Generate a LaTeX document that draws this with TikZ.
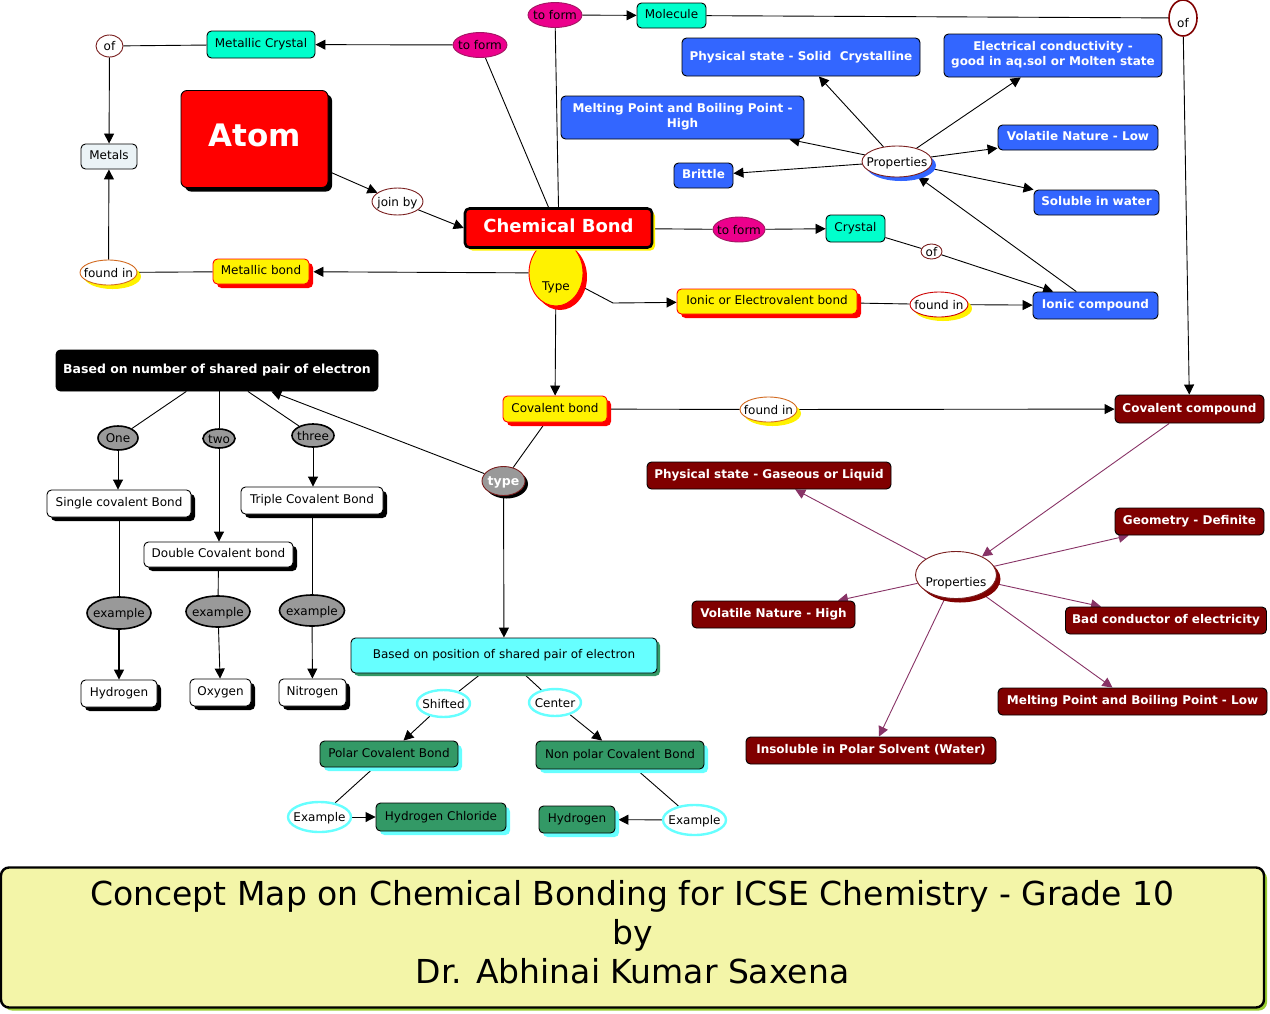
\documentclass[tikz,border=0pt]{standalone}
\usepackage{fontspec}
\setmainfont{DejaVu Sans}
\usepackage{xcolor}
\usepackage{tikz}
\usetikzlibrary{arrows.meta}
\usetikzlibrary{calc}
\usetikzlibrary{shapes.geometric}
\usetikzlibrary{shadows}
\usetikzlibrary{backgrounds}
\definecolor{aquafill}{HTML}{00FFCC}
\definecolor{bluefill}{HTML}{3366FF}
\definecolor{maroonfill}{HTML}{800000}
\definecolor{cyanfill}{HTML}{66FFFF}
\definecolor{greenfill}{HTML}{339966}
\definecolor{greyfill}{HTML}{999999}
\definecolor{paleblue}{HTML}{EBF3F6}
\definecolor{linkred}{HTML}{7A1F1F}
\definecolor{linkorange}{HTML}{D2691E}
\definecolor{plumline}{HTML}{883366}
\definecolor{titlefill}{HTML}{F3F5A8}
\definecolor{titleshadow}{HTML}{99CC33}
\newcommand{\etext}[2][-4.5pt]{\makebox[0pt]{\raisebox{#1}[0pt][0pt]{#2}}}
\tikzset{
	wh/.style n args = {2}{minimum width=#1pt, minimum height=#2pt},
	shade/.style 2 args = {drop shadow={shadow xshift=#2pt, shadow yshift=-#2pt, fill=#1, opacity=1}},
	treebox/.style = {shape=rectangle, rounded corners=4.5pt, draw, line width=.9pt,
		align=center, inner sep=0pt, font=\fontsize{12}{15}\selectfont,
		execute at begin node=\strut},
	aquabox/.style   = {treebox, fill=aquafill},
	bluebox/.style   = {treebox, fill=bluefill, text=white, font=\fontsize{12}{15}\selectfont\bfseries},
	maroonbox/.style = {bluebox, fill=maroonfill},
	yellowbox/.style = {treebox, draw=red, fill=yellow, shade={red}{4}},
	whitebox/.style  = {treebox, fill=white, shade={black}{4}},
	cyanbox/.style   = {treebox, fill=cyanfill, shade={greenfill}{3}},
	greenbox/.style  = {treebox, fill=greenfill, shade={cyanfill}{4}},
	oval/.style      = {shape=ellipse, draw=linkred, line width=.9pt, fill=white,
		inner sep=0pt, font=\fontsize{12}{15}\selectfont},
	pinkoval/.style  = {oval, draw=linkred!70!magenta, fill=magenta},
	sunoval/.style   = {oval, draw=linkorange, shade={yellow}{4}},
	greyoval/.style  = {oval, draw=black, line width=1.6pt, fill=greyfill},
	ringoval/.style  = {oval, draw=cyanfill, line width=2.4pt},
	line/.style      = {draw, line width=.9pt},
	link/.style      = {line, -{Triangle[length=10pt,width=10pt]}},
	plumlink/.style  = {line, draw=plumline, -{Triangle[length=10pt,width=10pt]}}
}
\begin{document}
\begin{tikzpicture}[x=1pt, y=-1pt]
\useasboundingbox (0,0) rectangle (1270,1013);

%top row
\node [treebox, fill=red, text=white, font=\fontsize{31}{36}\selectfont\bfseries, rounded corners=6pt, shade={black}{4}, wh={147}{97}] (atom) at (254.5,139) {Atom};
\node [oval, wh={27}{22}] (ofmetal) at (109.5,46) {\etext{of}};
\node [aquabox, wh={108}{27}] (mcrystal) at (261,44.5) {Metallic Crystal};
\node [pinkoval, wh={54}{25}] (formcrystal) at (480,45) {\etext{to form}};
\node [pinkoval, wh={54}{25}] (formmolecule) at (555,15) {\etext{to form}};
\node [aquabox, wh={69}{25}] (molecule) at (671.5,15.5) {Molecule};
\node [oval, draw=maroonfill, line width=1.6pt, wh={28}{36}] (ofcovalent) at (1183,18) {\etext[-9pt]{of}};
\node [treebox, fill=paleblue, wh={56}{25}] (metals) at (109,156.5) {Metals};
\node [oval, wh={51}{27}] (joinby) at (397.5,201.5) {\etext{join by}};

%centre
\node [oval, draw=red, fill=yellow, shade={red}{4}, wh={54}{66}] (type) at (556,273) {\etext[-17pt]{Type}};
\node [treebox, fill=red, text=white, line width=2.6pt, font=\fontsize{18}{22}\selectfont\bfseries, shade={yellow}{3}, wh={187}{39}] (chem) at (558.5,228) {Chemical Bond};
\node [pinkoval, wh={52}{25}] (formionic) at (739,229.5) {\etext{to form}};
\node [aquabox, wh={59}{27}] (crystal) at (855.5,228.5) {Crystal};
\node [oval, wh={21}{15}] (ofionic) at (931.5,251.5) {\etext{of}};
\node [yellowbox, wh={96}{25}] (metallic) at (261,271.5) {Metallic bond};
\node [sunoval, wh={57}{25}] (foundmetal) at (108.5,272.5) {\etext{found in}};
\node [yellowbox, wh={180}{25}] (ionicbond) at (767,301.5) {Ionic or Electrovalent bond};
\node [sunoval, draw=red!80!black, wh={58}{25}] (foundionic) at (939,304.5) {\etext{found in}};
\node [bluebox, wh={125}{27}] (ioniccomp) at (1095.5,305.5) {Ionic compound};
\node [yellowbox, wh={104}{26}] (covbond) at (555,409) {Covalent bond};
\node [sunoval, wh={57}{25}] (foundcov) at (768.5,409.5) {\etext{found in}};
\node [maroonbox, wh={149}{28}] (covcomp) at (1189.5,409) {Covalent compound};

%ionic properties
\node [oval, shade={bluefill}{4}, wh={70}{31}] (ionprop) at (897,161.5) {\etext{Properties}};
\node [bluebox, wh={238}{38}] (solid) at (801,57) {Physical state - Solid\ \ Crystalline};
\node [bluebox, wh={218}{43}] (conduct) at (1053,55.5) {Electrical conductivity -\\good in aq.sol or Molten state};
\node [bluebox, wh={243}{43}] (meltion) at (682.5,117.5) {Melting Point and Boiling Point -\\High};
\node [bluebox, wh={59}{25}] (brittle) at (703.5,175.5) {Brittle};
\node [bluebox, wh={160}{25}] (vollow) at (1078,137.5) {Volatile Nature - Low};
\node [bluebox, wh={125}{25}] (soluble) at (1096.5,202.5) {Soluble in water};

%number of shared pairs
\node [treebox, fill=black, text=white, font=\fontsize{12.5}{15}\selectfont\bfseries, wh={322}{41}] (bynumber) at (217,370.5) {Based on number of shared pair of electron};
\node [greyoval, wh={40}{24}] (one) at (118,438) {\etext{One}};
\node [greyoval, wh={32}{19}] (two) at (219,438.5) {\etext{two}};
\node [greyoval, wh={42}{23}] (three) at (313,435.5) {\etext{three}};
\node [whitebox, wh={144}{27}] (single) at (119,503.5) {Single covalent Bond};
\node [whitebox, wh={149}{25}] (double) at (218.5,554.5) {Double Covalent bond};
\node [whitebox, wh={142}{27}] (triple) at (312,500.5) {Triple Covalent Bond};
\node [greyoval, wh={64}{32}] (exone) at (119,613) {\etext{example}};
\node [greyoval, wh={64}{31}] (extwo) at (218,611.5) {\etext{example}};
\node [greyoval, wh={65}{31}] (exthree) at (312,610.5) {\etext{example}};
\node [whitebox, wh={76}{27}] (hydrogen) at (119,693.5) {Hydrogen};
\node [whitebox, wh={61}{27}] (oxygen) at (220.5,692.5) {Oxygen};
\node [whitebox, wh={67}{27}] (nitrogen) at (312.5,692.5) {Nitrogen};

%position of shared pair
\node [oval, fill=greyfill, text=white, shade={black}{3}, font=\fontsize{12.5}{15}\selectfont\bfseries, wh={43}{29}] (covtype) at (503.5,481) {\etext{type}};
\node [cyanbox, wh={306}{35}] (byposition) at (504,655.5) {Based on position of shared pair of electron};
\node [ringoval, wh={53}{27}] (shifted) at (443.5,703.5) {\etext{Shifted}};
\node [ringoval, wh={52}{27}] (center) at (555,702.5) {\etext{Center}};
\node [greenbox, wh={138}{26}] (polar) at (389,754) {Polar Covalent Bond};
\node [greenbox, wh={168}{28}] (nonpolar) at (620,755) {Non polar Covalent Bond};
\node [ringoval, wh={63}{30}] (exleft) at (319.5,817) {\etext{Example}};
\node [greenbox, wh={130}{28}] (hcl) at (441,817) {Hydrogen Chloride};
\node [greenbox, wh={76}{27}] (hgreen) at (577,819.5) {Hydrogen};
\node [ringoval, wh={63}{30}] (exright) at (694.5,820) {\etext{Example}};

%covalent properties
\node [oval, shade={maroonfill}{4}, wh={81}{47}] (covprop) at (956,575) {\etext[-11pt]{Properties}};
\node [maroonbox, wh={244}{27}] (gaseous) at (769,475.5) {Physical state - Gaseous or Liquid};
\node [maroonbox, wh={149}{27}] (geometry) at (1189.5,521.5) {Geometry - Definite};
\node [maroonbox, wh={163}{27}] (volhigh) at (773.5,614.5) {Volatile Nature - High};
\node [maroonbox, wh={201}{27}] (badcond) at (1166,620.5) {Bad conductor of electricity};
\node [maroonbox, wh={269}{27}] (meltlow) at (1132.5,701.5) {Melting Point and Boiling Point - Low};
\node [maroonbox, wh={250}{27}] (insoluble) at (871,750.5) {Insoluble in Polar Solvent (Water)};

\node [treebox, fill=titlefill, line width=2.4pt, rounded corners=8pt, font=\fontsize{33}{39}\selectfont, shade={titleshadow}{3}, wh={1263}{140}] (title) at (632.5,937.5) {Concept Map on Chemical Bonding for ICSE Chemistry - Grade 10\\by\\Dr. Abhinai Kumar Saxena};

\coordinate (bend) at (613,303);

\begin{scope}[on background layer]
\path [line] (molecule) -- (ofcovalent);
\path [link] (ofcovalent) -- (covcomp);
\path [link] (formmolecule) -- (molecule);
\path [line] (formmolecule) -- (chem.north);
\path [line] (formcrystal) -- ($(chem.north)+(-10,0)$);
\path [link] (formcrystal) -- (mcrystal);
\path [line] (mcrystal) -- (ofmetal);
\path [link] (ofmetal) -- (metals);
\path [link] (foundmetal) -- (metals);
\path [line] (metallic) -- (foundmetal);
\path [link, shorten >=4pt] (type) -- (metallic);
\path [link] (atom) -- (joinby);
\path [link] (joinby) -- (chem.west);
\path [line] (chem) -- (formionic);
\path [link] (formionic) -- (crystal);
\path [line] (crystal) -- (ofionic);
\path [link] (ofionic) -- (ioniccomp);
\path [line] (type) -- (bend);
\path [link] (bend) -- (ionicbond);
\path [line] (ionicbond) -- (foundionic);
\path [link] (foundionic) -- (ioniccomp);
\path [link, shorten >=3pt] (ioniccomp) -- (ionprop);
\path [link] (ionprop) -- (solid);
\path [link] (ionprop) -- (conduct);
\path [link] (ionprop) -- (meltion);
\path [link] (ionprop) -- (brittle);
\path [link] (ionprop) -- (vollow);
\path [link] (ionprop) -- (soluble);
\path [link] (type) -- (covbond);
\path [line] (covbond) -- (foundcov);
\path [link] (foundcov) -- (covcomp);
\path [line] (covbond) -- (covtype);
\path [link] (covtype) -- (bynumber);
\path [link] (covtype) -- (byposition);
\path [line] (bynumber) -- (one);
\path [line] (bynumber.south -| two) -- (two);
\path [line] (bynumber) -- (three);
\path [link] (one) -- (one |- single.north);
\path [link] (two) -- (two |- double.north);
\path [link] (three) -- (three |- triple.north);
\path [line] (single) -- (exone);
\path [line] (double) -- (extwo);
\path [line] (triple) -- (exthree);
\path [link, line width=1.5pt] (exone) -- (hydrogen);
\path [link] (extwo) -- (oxygen);
\path [link] (exthree) -- (nitrogen);
\path [line] (byposition) -- (shifted);
\path [line] (byposition) -- (center);
\path [link] (shifted) -- (polar);
\path [link] (center) -- (nonpolar);
\path [line] (polar) -- (exleft);
\path [link] (exleft) -- (hcl);
\path [line] (nonpolar) -- (exright);
\path [link, shorten >=3pt] (exright) -- (hgreen);
\path [plumlink] (covcomp) -- (covprop);
\path [plumlink] (covprop) -- (gaseous);
\path [plumlink] (covprop) -- (geometry);
\path [plumlink] (covprop) -- (volhigh);
\path [plumlink] (covprop) -- ($(badcond.north)+(-65,0)$);
\path [plumlink] (covprop) -- ($(meltlow.north)+(-20,0)$);
\path [plumlink] (covprop) -- ($(insoluble.north)+(8,0)$);
\end{scope}
\end{tikzpicture}
\end{document}
